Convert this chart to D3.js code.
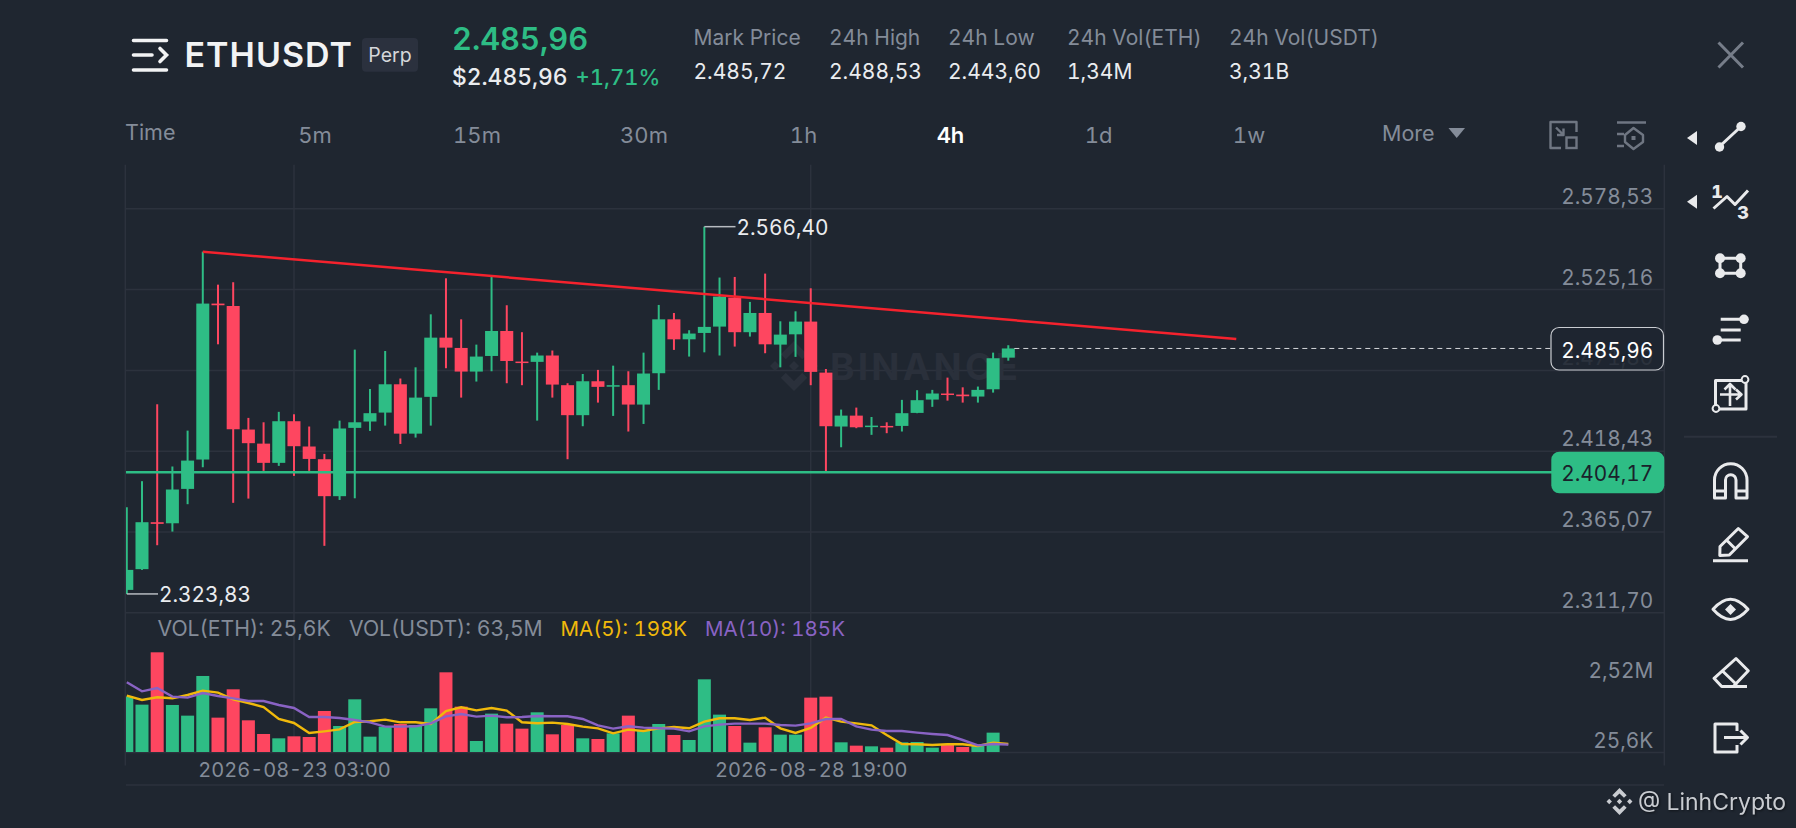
<!DOCTYPE html>
<html>
<head>
<meta charset="utf-8">
<title>ETHUSDT Perp</title>
<script src="https://cdn.jsdelivr.net/npm/d3@7"></script>
<style>
    html, body { margin: 0; padding: 0; background: #1f2630; overflow: hidden; }
    svg { display: block; }
    text { font-family: "Inter", "Noto Sans", sans-serif; font-feature-settings: "tnum"; }
</style>
</head>
<body>
<svg id="chart" width="1796" height="828"></svg>
<script>
// candles (oldest first)
const opens = [2326.5, 2340.2, 2371.2, 2370.5, 2393.2, 2412.6, 2515.6, 2514.0, 2432.4, 2423.1,
    2410.4, 2437.9, 2421.2, 2412.8, 2388.4, 2433.5, 2437.7, 2443.6, 2462.3, 2429.7,
    2454.0, 2493.1, 2486.3, 2470.7, 2481.0, 2497.5, 2477.3, 2477.1, 2481.3, 2461.7,
    2441.9, 2464.3, 2460.8, 2461.7, 2448.9, 2469.6, 2505.2, 2492.0, 2496.2, 2500.4,
    2519.5, 2496.7, 2509.4, 2488.5, 2495.3, 2503.7, 2470.0, 2434.4, 2441.6, 2434.1,
    2434.8, 2434.8, 2443.4, 2452.2, 2456.2, 2455.5, 2454.2, 2459.0, 2479.9];
const closes = [2339.7, 2371.2, 2370.1, 2392.8, 2411.9, 2515.6, 2514.5, 2432.6, 2423.4, 2410.4,
    2437.9, 2421.4, 2413.0, 2388.4, 2433.1, 2437.2, 2443.2, 2462.3, 2429.7, 2453.5,
    2493.1, 2486.5, 2470.7, 2480.6, 2497.5, 2477.7, 2476.4, 2481.3, 2462.1, 2441.9,
    2464.3, 2460.6, 2461.7, 2448.9, 2469.4, 2505.2, 2492.0, 2495.8, 2500.2, 2520.2,
    2496.7, 2509.4, 2488.7, 2495.1, 2503.7, 2470.5, 2434.6, 2441.6, 2433.9, 2435.0,
    2433.9, 2443.2, 2451.8, 2456.2, 2455.3, 2454.4, 2458.6, 2479.5, 2485.96];
const highs = [2381.1, 2398.3, 2449.1, 2408.0, 2431.7, 2549.9, 2528.1, 2529.7, 2440.1, 2437.2,
    2444.1, 2442.5, 2434.4, 2416.3, 2438.3, 2485.2, 2459.2, 2484.3, 2466.1, 2473.5,
    2508.5, 2532.3, 2505.2, 2488.5, 2533.4, 2514.5, 2496.7, 2483.2, 2484.6, 2463.0,
    2469.1, 2471.8, 2474.6, 2470.9, 2483.2, 2514.7, 2509.4, 2498.0, 2566.4, 2532.8,
    2533.2, 2516.7, 2535.4, 2503.9, 2510.5, 2525.7, 2472.4, 2445.6, 2446.9, 2440.7,
    2437.2, 2452.0, 2458.4, 2458.6, 2466.7, 2460.3, 2460.8, 2483.2, 2488.1];
const lows = [2323.83, 2339.7, 2356.0, 2365.0, 2383.1, 2407.5, 2488.7, 2384.0, 2386.8, 2405.1,
    2408.4, 2401.8, 2405.1, 2355.6, 2385.9, 2387.0, 2431.5, 2435.0, 2422.9, 2427.1,
    2435.0, 2472.9, 2453.5, 2464.1, 2470.9, 2463.0, 2461.7, 2438.3, 2453.5, 2412.8,
    2434.6, 2450.2, 2441.4, 2431.1, 2436.1, 2458.6, 2485.0, 2480.6, 2483.4, 2481.3,
    2487.2, 2493.8, 2482.8, 2473.5, 2480.4, 2461.7, 2404.17, 2420.7, 2433.3, 2428.9,
    2430.0, 2431.1, 2443.2, 2447.4, 2451.5, 2450.2, 2450.2, 2456.8, 2477.9];

// volume pane, in thousands of ETH
const volumes = [2018, 1730, 3614, 1718, 1334, 2762, 1262, 2282, 1166, 674,
    518, 590, 566, 1502, 962, 1922, 578, 938, 1034, 998,
    1598, 2894, 1658, 422, 1406, 1046, 866, 1454, 662, 998,
    518, 494, 698, 1334, 818, 1034, 638, 458, 2642, 1370,
    962, 362, 914, 650, 650, 1982, 2018, 374, 254, 230,
    182, 374, 386, 182, 314, 206, 290, 722, 25.6];
const ma5 = [2054, 1898, 1994, 1958, 2078, 2234, 2162, 1922, 1790, 1646,
    1214, 1070, 710, 770, 842, 1106, 1130, 1190, 1094, 1094,
    1034, 1502, 1634, 1526, 1610, 1514, 1094, 1058, 1082, 1034,
    938, 878, 698, 830, 782, 878, 926, 878, 1118, 1238,
    1238, 1178, 1262, 878, 710, 890, 1262, 1118, 1058, 986,
    638, 314, 302, 278, 302, 302, 242, 362, 314];
const ma10 = [2534, 2210, 2330, 2018, 1982, 2150, 2042, 1958, 1862, 1862,
    1718, 1610, 1286, 1286, 1250, 1178, 1094, 938, 938, 950,
    1058, 1310, 1394, 1298, 1334, 1274, 1286, 1322, 1310, 1310,
    1214, 986, 866, 950, 902, 878, 866, 770, 950, 1010,
    1046, 1046, 1046, 998, 974, 1058, 1214, 1214, 950, 830,
    782, 782, 722, 674, 638, 458, 266, 314, 290];

const priceTicks = [2578.53, 2525.16, 2471.80, 2418.43, 2365.07, 2311.70];
const priceTickLabels = ["2.578,53", "2.525,16", "2.471,80", "2.418,43", "2.365,07", "2.311,70"];
const volTicks = [2520, 25.6];
const volTickLabels = ["2,52M", "25,6K"];
const timeIndexes = [11, 45];
const timeLabels = ["2026-08-23 03:00", "2026-08-28 19:00"];

const lastPrice = 2485.96;
const linePrice = 2404.17;
const trendIndex = [5, 73];
const trendPrice = [2549.9, 2492.2];

const headerStats = ["Mark Price", "24h High", "24h Low", "24h Vol(ETH)", "24h Vol(USDT)"];
const headerValues = ["2.485,72", "2.488,53", "2.443,60", "1,34M", "3,31B"];
const intervals = ["5m", "15m", "30m", "1h", "4h", "1d", "1w"];

const BG = "#1f2630", GRID = "#2c323d", GREEN = "#2ebd85", RED = "#fe4660";
const MUTED = "#848c99", WHITE = "#eaecef", ICON = "#e9eaec";

const svg = d3.select("#chart");

const x = d3.scaleLinear().domain([0, 58]).range([126.8, 1008.3]);
const yPrice = d3.scaleLinear().domain([2311.70, 2578.53]).range([612.3, 208.3]);
const yVol = d3.scaleLinear().domain([25.6, 2520]).range([752, 682.7]);

const plotLeft = 126, plotRight = 1664;
const candleW = 13;

svg.append("rect").attr("width", 1796).attr("height", 828).attr("fill", BG);
svg.append("clipPath").attr("id", "plot")
    .append("rect").attr("x", plotLeft).attr("y", 160).attr("width", plotRight - plotLeft).attr("height", 600);

// Binance logo, also used by the watermark at the bottom right
function drawLogo(cx, cy, r, color) {
    const shapes = [
        [[0, -.2], [.2, 0], [0, .2], [-.2, 0]],
        [[-.76, -.2], [-.56, 0], [-.76, .2], [-.96, 0]],
        [[.76, -.2], [.96, 0], [.76, .2], [.56, 0]],
        [[0, -1], [.53, -.47], [.33, -.27], [0, -.6], [-.33, -.27], [-.53, -.47]],
        [[0, 1], [.53, .47], [.33, .27], [0, .6], [-.33, .27], [-.53, .47]]
    ];
    shapes.forEach(s => svg.append("polygon")
        .attr("points", s.map(p => (cx + p[0] * r) + "," + (cy + p[1] * r)).join(" "))
        .attr("fill", color));
}

// vertical grid
[plotLeft - 0.7, plotRight + 0.3].forEach(v => svg.append("line")
    .attr("x1", v).attr("x2", v).attr("y1", 164.7).attr("y2", 765.5)
    .attr("stroke", GRID).attr("stroke-width", 1.5));
timeIndexes.forEach(i => svg.append("line")
    .attr("x1", x(i)).attr("x2", x(i)).attr("y1", 164.7).attr("y2", 752)
    .attr("stroke", GRID).attr("stroke-width", 1.5));

// price axis with its grid lines
const priceAxis = svg.append("g")
    .attr("transform", "translate(" + plotRight + ",0)")
    .call(d3.axisLeft(yPrice).tickValues(priceTicks)
        .tickSize(plotRight - plotLeft)
        .tickFormat((d, i) => priceTickLabels[i]));
const volAxis = svg.append("g")
    .attr("transform", "translate(" + plotRight + ",0)")
    .call(d3.axisLeft(yVol).tickValues(volTicks)
        .tickSize(plotRight - plotLeft)
        .tickFormat((d, i) => volTickLabels[i]));
[priceAxis, volAxis].forEach(a => {
    a.select(".domain").remove();
    a.selectAll("line").attr("stroke", GRID).attr("stroke-width", 1.5);
    a.selectAll("text")
        .attr("x", -10.7).attr("dy", "-12.5px").attr("dominant-baseline", "central")
        .attr("fill", MUTED).attr("font-size", 20.8);
});
volAxis.selectAll(".tick").filter(d => d === 2520).select("line").remove();

// bottom border of the time axis
svg.append("line").attr("x1", plotLeft).attr("x2", plotRight).attr("y1", 785).attr("y2", 785)
    .attr("stroke", GRID).attr("stroke-width", 1.5);

// time labels
svg.append("g").attr("transform", "translate(0,777)")
    .call(d3.axisBottom(x).tickValues(timeIndexes).tickSize(0).tickFormat((d, i) => timeLabels[i]))
    .call(g => g.select(".domain").remove())
    .selectAll("text").attr("y", 0).attr("dy", 0)
    .attr("fill", MUTED).attr("font-size", 20);

// watermark sits behind the candles
drawLogo(794, 366, 25, "#2a303b");
svg.append("text").attr("x", 830).attr("y", 380)
    .attr("font-size", 37).attr("font-weight", 700).attr("letter-spacing", 3.2)
    .attr("fill", "#2a303b").text("BINANCE");

const idx = d3.range(opens.length);
const colorOf = i => closes[i] >= opens[i] ? GREEN : RED;

const volBars = svg.append("g").attr("clip-path", "url(#plot)");
volBars.selectAll("rect").data(idx).enter().append("rect")
    .attr("x", i => x(i) - candleW / 2)
    .attr("y", i => yVol(volumes[i]))
    .attr("width", candleW)
    .attr("height", i => yVol(25.6) - yVol(volumes[i]))
    .attr("fill", colorOf);

const candles = svg.append("g").attr("clip-path", "url(#plot)");
candles.selectAll("line").data(idx).enter().append("line")
    .attr("x1", i => x(i)).attr("x2", i => x(i))
    .attr("y1", i => yPrice(highs[i])).attr("y2", i => yPrice(lows[i]))
    .attr("stroke", colorOf).attr("stroke-width", 2);
candles.selectAll("rect").data(idx).enter().append("rect")
    .attr("x", i => x(i) - candleW / 2)
    .attr("y", i => yPrice(Math.max(opens[i], closes[i])))
    .attr("width", candleW)
    .attr("height", i => Math.max(1.5, yPrice(Math.min(opens[i], closes[i])) - yPrice(Math.max(opens[i], closes[i]))))
    .attr("fill", colorOf);

// moving averages
const volLine = d3.line().x((d, i) => x(i)).y(d => yVol(d));
[[ma5, "#f0b90b"], [ma10, "#8a63c4"]].forEach(m => svg.append("path")
    .attr("clip-path", "url(#plot)")
    .attr("d", volLine(m[0]))
    .attr("fill", "none").attr("stroke", m[1]).attr("stroke-width", 2.4));

// trend line and position line
svg.append("line")
    .attr("x1", x(trendIndex[0])).attr("y1", yPrice(trendPrice[0]))
    .attr("x2", x(trendIndex[1])).attr("y2", yPrice(trendPrice[1]))
    .attr("stroke", "#f5222d").attr("stroke-width", 2.5);
svg.append("line")
    .attr("x1", plotLeft).attr("x2", 1552).attr("y1", yPrice(linePrice)).attr("y2", yPrice(linePrice))
    .attr("stroke", GREEN).attr("stroke-width", 2.5);
svg.append("line")
    .attr("x1", x(58) + 6).attr("x2", 1551).attr("y1", yPrice(lastPrice)).attr("y2", yPrice(lastPrice))
    .attr("stroke", "#d5d7da").attr("stroke-width", 1).attr("stroke-dasharray", "5 4");

// high / low leaders
function priceNote(i, price, label, textX) {
    svg.append("line").attr("x1", x(i)).attr("x2", textX - 1)
        .attr("y1", yPrice(price)).attr("y2", yPrice(price))
        .attr("stroke", "#b7bbc1").attr("stroke-width", 1.5);
    svg.append("text").attr("x", textX).attr("y", yPrice(price) + 1)
        .attr("dominant-baseline", "central")
        .attr("fill", WHITE).attr("font-size", 20.8).text(label);
}
priceNote(38, 2566.40, "2.566,40", 736.5);
priceNote(0, 2323.83, "2.323,83", 159);

// last price and position price tags
svg.append("rect").attr("x", 1551).attr("y", 327.5).attr("width", 112.5).attr("height", 42.5).attr("rx", 8)
    .attr("fill", BG).attr("fill-opacity", 0.88).attr("stroke", "#c9ccd1").attr("stroke-width", 1.2);
svg.append("text").attr("x", 1653.3).attr("y", 350).attr("text-anchor", "end")
    .attr("dominant-baseline", "central").attr("fill", "#ffffff").attr("font-size", 20.8).text("2.485,96");
svg.append("rect").attr("x", 1551.3).attr("y", 451.7).attr("width", 113).attr("height", 41.6).attr("rx", 8)
    .attr("fill", GREEN);
svg.append("text").attr("x", 1653.3).attr("y", 473).attr("text-anchor", "end")
    .attr("dominant-baseline", "central").attr("fill", "#1a212b").attr("font-size", 20.8).text("2.404,17");

// volume legend
const legend = [["VOL(ETH): 25,6K", 157.5, MUTED, 21.2], ["VOL(USDT): 63,5M", 349, MUTED, 21.2],
    ["MA(5): 198K", 560.5, "#f0b90b", 20.5], ["MA(10): 185K", 705, "#8a63c4", 20.5]];
legend.forEach(l => svg.append("text").attr("x", l[1]).attr("y", 635.5)
    .attr("font-size", l[3]).attr("fill", l[2]).text(l[0]));

// header
svg.append("path").attr("d", "M133.5,40.5H166.5 M133.5,55H152 M133.5,70H166.5 M160,48.5L166.5,55L160,61.5")
    .attr("fill", "none").attr("stroke", "#f2f3f4").attr("stroke-width", 3.6).attr("stroke-linecap", "round");
svg.append("text").attr("x", 184.5).attr("y", 67).attr("font-size", 34).attr("font-weight", 600)
    .attr("letter-spacing", 1).attr("fill", "#f2f3f4").text("ETHUSDT");
svg.append("rect").attr("x", 362).attr("y", 38).attr("width", 56).attr("height", 33.7).attr("rx", 4).attr("fill", "#2b313e");
svg.append("text").attr("x", 390).attr("y", 62).attr("text-anchor", "middle").attr("font-size", 19.5)
    .attr("fill", "#d5d7da").text("Perp");
svg.append("text").attr("x", 452).attr("y", 50).attr("font-size", 30.8).attr("font-weight", 600)
    .attr("fill", GREEN).text("2.485,96");
svg.append("text").attr("x", 452).attr("y", 85).attr("font-size", 22.8).attr("font-weight", 500)
    .attr("fill", WHITE).text("$2.485,96");
svg.append("text").attr("x", 575.5).attr("y", 85).attr("font-size", 22).attr("font-weight", 500)
    .attr("fill", GREEN).text("+1,71%");

const statX = [693.5, 829, 948, 1067, 1229];
headerStats.forEach((s, i) => {
    svg.append("text").attr("x", statX[i]).attr("y", 45).attr("font-size", 21).attr("fill", MUTED).text(s);
    svg.append("text").attr("x", statX[i]).attr("y", 79).attr("font-size", 21).attr("fill", WHITE).text(headerValues[i]);
});
svg.append("path").attr("d", "M1718.5,42.5L1743,67.5 M1743,42.5L1718.5,67.5")
    .attr("stroke", "#767d89").attr("stroke-width", 3).attr("fill", "none");

// interval tabs
svg.append("text").attr("x", 125).attr("y", 140).attr("font-size", 21.5).attr("fill", MUTED).text("Time");
const intervalX = [315, 477, 644, 803.5, 950.5, 1098.5, 1249];
intervals.forEach((t, i) => svg.append("text")
    .attr("x", intervalX[i]).attr("y", 143).attr("text-anchor", "middle")
    .attr("font-size", 22).attr("font-weight", t === "4h" ? 600 : 400)
    .attr("fill", t === "4h" ? "#ffffff" : MUTED).text(t));
svg.append("text").attr("x", 1382).attr("y", 141).attr("font-size", 21.5).attr("fill", MUTED).text("More");
svg.append("path").attr("d", "M1448.5,128H1465L1456.7,138Z").attr("fill", MUTED);

function icon(d, color, width) {
    return svg.append("path").attr("d", d).attr("fill", "none")
        .attr("stroke", color || ICON).attr("stroke-width", width || 3)
        .attr("stroke-linejoin", "round");
}
function dot(cx, cy, r) {
    svg.append("circle").attr("cx", cx).attr("cy", cy).attr("r", r).attr("fill", ICON);
}

// the two small gray icons next to More
icon("M1576.5,132V122H1550.5V148H1561 M1556,127.5L1563.5,135 M1563.5,128.5V135H1557", "#6f7682", 2.4);
svg.append("rect").attr("x", 1566.5).attr("y", 137.5).attr("width", 10).attr("height", 10.5)
    .attr("fill", "none").attr("stroke", "#6f7682").attr("stroke-width", 2.4);
icon("M1617,122.5H1646 M1617,134H1624 M1617,146H1624 M1633.5,128L1643,135L1643,142L1633.5,149L1625,142V135Z", "#6f7682", 2.4);
svg.append("rect").attr("x", 1631.5).attr("y", 136).attr("width", 4).attr("height", 4).attr("fill", "#6f7682");

// drawing toolbar
[[1692, 138], [1692, 201.7]].forEach(p => svg.append("path")
    .attr("d", "M" + (p[0] + 5) + "," + (p[1] - 7) + "V" + (p[1] + 7) + "L" + (p[0] - 5) + "," + p[1] + "Z")
    .attr("fill", ICON));

icon("M1719.5,146.5L1741,126.5");
dot(1719.5, 147, 4.7);
dot(1741, 126.5, 4.7);

icon("M1713.5,208.5L1727,196.5L1735,204.5L1748,190.5");
svg.append("text").attr("x", 1717).attr("y", 198).attr("text-anchor", "middle").attr("font-size", 18).attr("font-weight", 800).attr("fill", ICON).text("1");
svg.append("text").attr("x", 1743).attr("y", 218.5).attr("text-anchor", "middle").attr("font-size", 18).attr("font-weight", 800).attr("fill", ICON).text("3");

icon("M1720,258.3H1740.7V273.3H1720Z");
[[1720, 258.3], [1740.7, 258.3], [1720, 273.3], [1740.7, 273.3]].forEach(p => dot(p[0], p[1], 5));

icon("M1720.7,319.3H1742 M1720.7,330H1740.7 M1719,340H1740.7");
dot(1744, 319.3, 4.8);
dot(1717.3, 340, 4.8);

icon("M1715.5,380.5H1746V409H1715.5Z");
icon("M1730,406V384 M1724.5,389.5L1730,384L1735.5,389.5 M1720,394.5H1741.5 M1736,389.5L1741.5,394.5L1736,399.5", ICON, 2.6);
[[1745, 379.5], [1716, 408.5]].forEach(p => svg.append("circle").attr("cx", p[0]).attr("cy", p[1]).attr("r", 3.4)
    .attr("fill", BG).attr("stroke", ICON).attr("stroke-width", 2));

svg.append("line").attr("x1", 1684).attr("x2", 1777).attr("y1", 436.7).attr("y2", 436.7)
    .attr("stroke", GRID).attr("stroke-width", 2);

icon("M1714.5,498V480A15.5,15.5 0 0 1 1747,480V498H1736V480A5.2,5.2 0 0 0 1725.5,480V498Z M1714.5,491H1725.5 M1736,491H1747");
icon("M1719.8,555.5L1720,546.5L1738.3,528.5L1747.5,536.7L1729.3,555Z M1726.5,540L1735.5,549 M1713,560.7H1748");
icon("M1713,609.3Q1730.5,589 1748,609.3Q1730.5,629.5 1713,609.3Z");
svg.append("path").attr("d", "M1730.5,604L1736,609.5L1730.5,615L1725,609.5Z").attr("fill", ICON);
icon("M1736,658.5L1748.3,670.7L1733.3,686.5H1721.7L1714,678.3Z M1721.5,670L1737,685 M1733.3,686.5H1747");
icon("M1737,731V724H1715V752H1737V745 M1724,737.5H1747 M1740.5,730.5L1747.5,737.5L1740.5,744.5");

// watermark
const markG = "#c9ccd1";
drawLogo(1619.5, 801.5, 13.5, markG);
svg.append("text").attr("x", 1638).attr("y", 810).attr("font-size", 23).attr("fill", markG)
    .style("filter", "drop-shadow(1px 1px 1px rgba(0,0,0,.5))").text("@ LinhCrypto");
</script>
</body>
</html>
